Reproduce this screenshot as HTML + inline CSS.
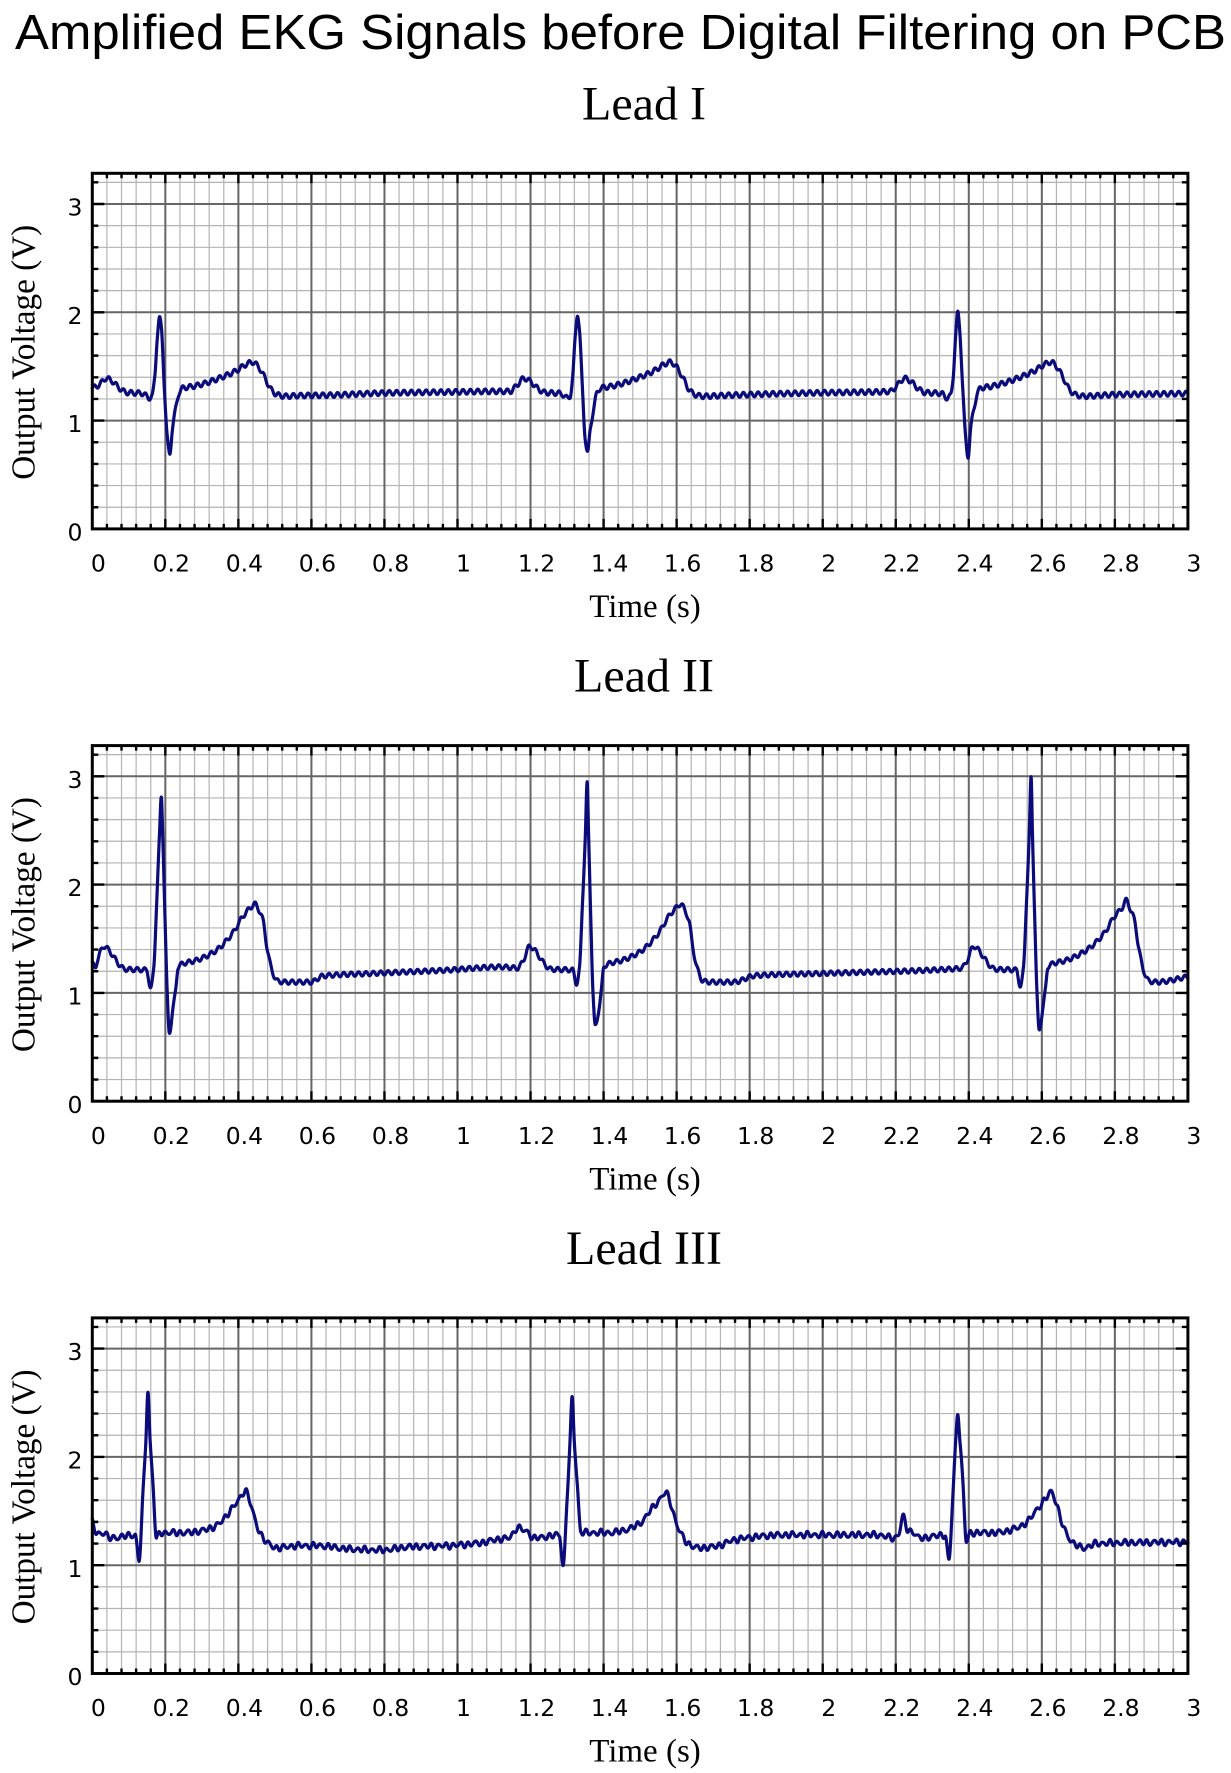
<!DOCTYPE html>
<html><head><meta charset="utf-8">
<style>
html,body{margin:0;padding:0;background:#fff;}
svg{display:block;}
.tk{font-family:"DejaVu Sans","Liberation Sans",sans-serif;font-size:23.5px;fill:#000;}
.ser{font-family:"Liberation Serif","DejaVu Serif",serif;fill:#000;}
</style></head><body>
<svg id="s" xmlns="http://www.w3.org/2000/svg" width="1231" height="1773" viewBox="0 0 1231 1773">
<rect width="1231" height="1773" fill="#fff"/>
<g id="plots"></g>
<text x="15" y="49" font-family="Liberation Sans, DejaVu Sans, sans-serif" font-size="49.5" textLength="1211" lengthAdjust="spacingAndGlyphs">Amplified EKG Signals before Digital Filtering on PCB</text>

<text class="ser" x="644" y="119.3" font-size="48" text-anchor="middle">Lead I</text>
<text class="ser" x="644" y="691.6" font-size="48" text-anchor="middle">Lead II</text>
<text class="ser" x="644" y="1263.9" font-size="48" text-anchor="middle">Lead III</text>

<g id="lab0">
<text class="ser" x="645" y="617" font-size="33" text-anchor="middle">Time (s)</text>
<text class="ser" transform="translate(34.5,352.3) rotate(-90)" font-size="34" text-anchor="middle" textLength="255" lengthAdjust="spacingAndGlyphs">Output Voltage (V)</text>
<g class="tk" text-anchor="middle">
<text x="75" y="540.5">0</text><text x="75" y="432.2">1</text><text x="75" y="323.9">2</text><text x="75" y="215.6">3</text>
<text x="98.3" y="571.5">0</text><text x="171.3" y="571.5">0.2</text><text x="244.4" y="571.5">0.4</text><text x="317.4" y="571.5">0.6</text><text x="390.5" y="571.5">0.8</text><text x="463.5" y="571.5">1</text><text x="536.5" y="571.5">1.2</text><text x="609.6" y="571.5">1.4</text><text x="682.6" y="571.5">1.6</text><text x="755.7" y="571.5">1.8</text><text x="828.7" y="571.5">2</text><text x="901.7" y="571.5">2.2</text><text x="974.8" y="571.5">2.4</text><text x="1047.8" y="571.5">2.6</text><text x="1120.9" y="571.5">2.8</text><text x="1193.9" y="571.5">3</text>
</g>
</g>
<g transform="translate(0,572.3)">
<text class="ser" x="645" y="617" font-size="33" text-anchor="middle">Time (s)</text>
<text class="ser" transform="translate(34.5,352.3) rotate(-90)" font-size="34" text-anchor="middle" textLength="255" lengthAdjust="spacingAndGlyphs">Output Voltage (V)</text>
<g class="tk" text-anchor="middle">
<text x="75" y="540.5">0</text><text x="75" y="432.2">1</text><text x="75" y="323.9">2</text><text x="75" y="215.6">3</text>
<text x="98.3" y="571.5">0</text><text x="171.3" y="571.5">0.2</text><text x="244.4" y="571.5">0.4</text><text x="317.4" y="571.5">0.6</text><text x="390.5" y="571.5">0.8</text><text x="463.5" y="571.5">1</text><text x="536.5" y="571.5">1.2</text><text x="609.6" y="571.5">1.4</text><text x="682.6" y="571.5">1.6</text><text x="755.7" y="571.5">1.8</text><text x="828.7" y="571.5">2</text><text x="901.7" y="571.5">2.2</text><text x="974.8" y="571.5">2.4</text><text x="1047.8" y="571.5">2.6</text><text x="1120.9" y="571.5">2.8</text><text x="1193.9" y="571.5">3</text>
</g>
</g>
<g transform="translate(0,1144.6)">
<text class="ser" x="645" y="617" font-size="33" text-anchor="middle">Time (s)</text>
<text class="ser" transform="translate(34.5,352.3) rotate(-90)" font-size="34" text-anchor="middle" textLength="255" lengthAdjust="spacingAndGlyphs">Output Voltage (V)</text>
<g class="tk" text-anchor="middle">
<text x="75" y="540.5">0</text><text x="75" y="432.2">1</text><text x="75" y="323.9">2</text><text x="75" y="215.6">3</text>
<text x="98.3" y="571.5">0</text><text x="171.3" y="571.5">0.2</text><text x="244.4" y="571.5">0.4</text><text x="317.4" y="571.5">0.6</text><text x="390.5" y="571.5">0.8</text><text x="463.5" y="571.5">1</text><text x="536.5" y="571.5">1.2</text><text x="609.6" y="571.5">1.4</text><text x="682.6" y="571.5">1.6</text><text x="755.7" y="571.5">1.8</text><text x="828.7" y="571.5">2</text><text x="901.7" y="571.5">2.2</text><text x="974.8" y="571.5">2.4</text><text x="1047.8" y="571.5">2.6</text><text x="1120.9" y="571.5">2.8</text><text x="1193.9" y="571.5">3</text>
</g>
</g>
</svg>
<script>
(function(){
const NS="http://www.w3.org/2000/svg";
const P=document.getElementById('plots');
const X0=92.3,SX=365.2,SY=108.3,H=355.6,X1=X0+3*SX;
const TOPS=[173.3,745.6,1317.9];
function mk(t,a){const e=document.createElementNS(NS,t);for(const k in a)e.setAttribute(k,a[k]);P.appendChild(e);return e;}
function grid(T){
  const B=T+H;let minor='',major='';
  for(let k=1;k<75;k++){const x=(X0+k*0.04*SX).toFixed(2);if(k%5)minor+='M'+x+' '+T+'V'+B;else major+='M'+x+' '+T+'V'+B;}
  for(let j=1;j<=16;j++){const y=(B-j*0.2*SY).toFixed(2);if(j%5)minor+='M'+X0+' '+y+'H'+X1;else major+='M'+X0+' '+y+'H'+X1;}
  mk('path',{d:minor,stroke:'#b4b4b4','stroke-width':1.2,fill:'none'});
  mk('path',{d:major,stroke:'#666','stroke-width':2,fill:'none'});
}
function ticks(T){
  const B=T+H;let d='';
  for(let k=1;k<75;k++){const x=(X0+k*0.04*SX).toFixed(2);const L=k%5?5:10;d+='M'+x+' '+T+'v'+L+'M'+x+' '+B+'v'+(-L);}
  for(let j=1;j<=16;j++){const y=(B-j*0.2*SY).toFixed(2);const L=j%5?6:12;d+='M'+X0+' '+y+'h'+L+'M'+X1+' '+y+'h'+(-L);}
  mk('path',{d:d,stroke:'#000','stroke-width':2.4,fill:'none'});
  mk('rect',{x:X0,y:T,width:X1-X0,height:H,fill:'none',stroke:'#000','stroke-width':3});
}
function pchip(xs,ys){
  const n=xs.length,h=[],d=[],m=new Array(n);
  for(let i=0;i<n-1;i++){h[i]=xs[i+1]-xs[i];d[i]=(ys[i+1]-ys[i])/h[i];}
  m[0]=d[0];m[n-1]=d[n-2];
  for(let i=1;i<n-1;i++){if(d[i-1]*d[i]<=0)m[i]=0;else{const w1=2*h[i]+h[i-1],w2=h[i]+2*h[i-1];m[i]=(w1+w2)/(w1/d[i-1]+w2/d[i]);}}
  return function(x){
    if(x<=xs[0])return ys[0];if(x>=xs[n-1])return ys[n-1];
    let lo=0,hi=n-1;while(hi-lo>1){const mid=(lo+hi)>>1;if(xs[mid]<=x)lo=mid;else hi=mid;}
    const i=lo,hh=h[i],s=(x-xs[i])/hh,s2=s*s,s3=s2*s;
    return (2*s3-3*s2+1)*ys[i]+(s3-2*s2+s)*hh*m[i]+(-2*s3+3*s2)*ys[i+1]+(s3-s2)*hh*m[i+1];
  };
}
function build(sp){
  let pts=[];
  sp.R.forEach(function(r,i){
    sp.tpl.forEach(function(p){
      let dt=p[0],v=p[1];
      if(typeof v==='string')v=sp[v][i];
      if(sp.Tsh&&dt>=0.15)dt+=sp.Tsh[i];
      const t=r+dt;
      if(t>=sp.cut&&t<=3)pts.push([t,v]);
    });
  });
  pts=pts.concat(sp.extra);
  pts.sort(function(a,b){return a[0]-b[0];});
  const xs=[],ys=[];
  pts.forEach(function(p){if(!xs.length||p[0]-xs[xs.length-1]>1e-4){xs.push(p[0]);ys.push(p[1]);}});
  return pchip(xs,ys);
}
function curve(sp,T){
  const f=build(sp),B=T+H;let d='';
  for(let i=0;i<=6000;i++){
    const t=i*0.0005;
    let v=f(t)+sp.amp*Math.sin(2*Math.PI*sp.fr*t+sp.ph);
    if(sp.n)v+=sp.n*0.5*(Math.sin(2*Math.PI*23*t+1)+Math.sin(2*Math.PI*71*t+2));
    d+=(i?'L':'M')+(X0+t*SX).toFixed(2)+' '+(B-v*SY).toFixed(2);
  }
  mk('path',{d:d,stroke:'#0b0b7a','stroke-width':3.2,fill:'none','stroke-linejoin':'round','stroke-linecap':'round'});
}
const L1={R:[0.184,1.3285,2.370],Rv:[1.945,1.985,1.99],Sv:[0.69,0.70,0.674],cut:0.003,amp:0.022,fr:49.5,ph:0,
 tpl:[[-0.185,1.27],[-0.165,1.33],[-0.146,1.39],[-0.13,1.365],[-0.11,1.30],[-0.09,1.26],[-0.045,1.25],[-0.029,1.21],[-0.02,1.23],[-0.013,1.40],[-0.006,1.78],[0,'Rv'],[0.005,1.85],[0.0135,1.30],[0.021,0.85],[0.028,'Sv'],[0.035,0.92],[0.045,1.12],[0.054,1.26],[0.064,1.30],[0.09,1.315],[0.12,1.34],[0.17,1.40],[0.21,1.46],[0.238,1.52],[0.255,1.54],[0.270,1.50],[0.288,1.40],[0.305,1.29],[0.322,1.24],[0.345,1.225]],
 extra:[[0,1.30],[0.56,1.23],[0.65,1.235],[0.8,1.255],[1.0,1.265],[1.1,1.27],[1.75,1.235],[1.9,1.25],[2.05,1.26],[2.15,1.265],[2.8,1.24],[3.0,1.25]]};
const L2={R:[0.189,1.355,2.5706],Rv:[2.81,2.93,2.985],Sv:[0.64,0.69,0.66],Qv:[1.04,1.09,1.06],Tv:[1.82,1.82,1.855],Tsh:[0,0,0.005],cut:0.012,amp:0.02,fr:49.5,ph:1,
 tpl:[[-0.19,1.23],[-0.175,1.30],[-0.157,1.43],[-0.145,1.40],[-0.13,1.33],[-0.115,1.26],[-0.10,1.22],[-0.04,1.21],[-0.029,'Qv'],[-0.021,1.22],[-0.013,1.82],[-0.005,2.45],[0,'Rv'],[0.004,2.45],[0.010,1.70],[0.016,1.00],[0.022,'Sv'],[0.031,0.83],[0.039,1.02],[0.046,1.24],[0.06,1.27],[0.095,1.30],[0.145,1.38],[0.195,1.55],[0.222,1.70],[0.245,1.79],[0.256,'Tv'],[0.268,1.76],[0.279,1.66],[0.289,1.43],[0.302,1.22],[0.318,1.11],[0.34,1.10]],
 extra:[[0,1.27],[0.008,1.24],[0.6,1.10],[0.63,1.155],[0.77,1.18],[0.97,1.21],[1.12,1.24],[1.757,1.10],[1.815,1.16],[2.0,1.18],[2.35,1.22],[3.0,1.15]]};
const L3={R:[0.1522,1.314,2.370],Rv:[2.616,2.54,2.415],Qv:[1.046,0.99,1.046],Sv:[1.25,1.31,1.22],Tv:[1.69,1.667,1.677],Pv:[1.40,1.35,1.446],Tsh:[0.011,0,0],cut:0.016,amp:0.022,fr:49.5,ph:2,n:0.012,
 tpl:[[-0.175,1.25],[-0.162,1.29],[-0.15,'Pv'],[-0.138,1.33],[-0.12,1.30],[-0.105,1.25],[-0.06,1.27],[-0.035,1.28],[-0.0245,'Qv'],[-0.014,1.62],[-0.006,2.12],[0,'Rv'],[0.006,2.15],[0.014,1.75],[0.0235,'Sv'],[0.035,1.30],[0.10,1.30],[0.15,1.33],[0.19,1.40],[0.215,1.51],[0.238,1.60],[0.256,'Tv'],[0.27,1.57],[0.282,1.42],[0.298,1.29],[0.318,1.20],[0.345,1.16]],
 extra:[[0,1.40],[0.013,1.29],[0.56,1.18],[0.62,1.18],[0.70,1.15],[0.79,1.14],[0.87,1.17],[0.97,1.18],[1.07,1.21],[1.11,1.24],[1.70,1.17],[1.766,1.24],[1.9,1.28],[2.15,1.28],[2.75,1.20],[3.0,1.215]]};
const specs=[L1,L2,L3];
TOPS.forEach(function(T,i){grid(T);curve(specs[i],T);ticks(T);});
})();
</script>
</body></html>
